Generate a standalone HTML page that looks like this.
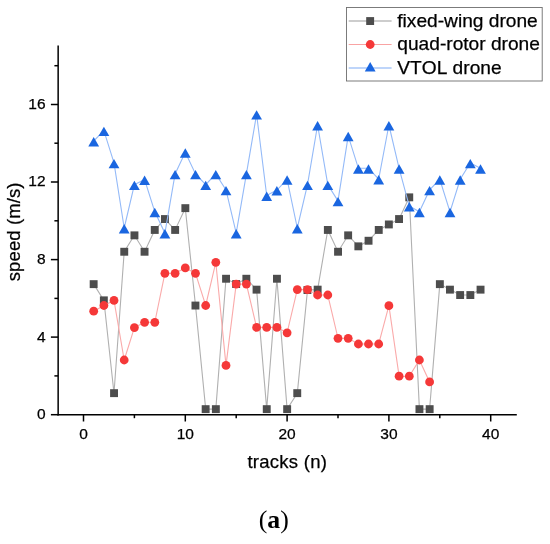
<!DOCTYPE html><html><head><meta charset="utf-8"><title>chart</title><style>html,body{margin:0;padding:0;background:#fff}svg{display:block}text{font-family:"Liberation Sans",Arial,sans-serif;fill:#000;stroke:#000;stroke-width:.25px;font-kerning:none}</style></head><body>
<svg width="550" height="544" viewBox="0 0 550 544">
<rect width="550" height="544" fill="#fff"/>
<polyline fill="none" stroke="#b0b0b0" stroke-width="1.1" points="93.7,284.1 103.9,300.4 114.0,393.2 124.2,251.7 134.4,235.3 144.6,251.7 154.8,229.9 164.9,219.0 175.1,229.9 185.3,208.2 195.5,305.5 205.7,409.1 215.8,409.1 226.0,278.7 236.2,284.0 246.4,278.7 256.6,289.6 266.7,409.1 276.9,278.7 287.1,409.1 297.3,393.2 307.5,290.0 317.6,289.6 327.8,229.9 338.0,251.7 348.2,235.3 358.4,246.3 368.5,240.7 378.7,229.9 388.9,224.4 399.1,219.0 409.3,197.3 419.4,409.1 429.6,409.1 439.8,284.1 450.0,289.6 460.2,295.0 470.3,295.0 480.5,289.6"/>
<rect x="89.7" y="280.2" width="7.9" height="7.9" fill="#4d4d4d"/>
<rect x="99.9" y="296.4" width="7.9" height="7.9" fill="#4d4d4d"/>
<rect x="110.1" y="389.2" width="7.9" height="7.9" fill="#4d4d4d"/>
<rect x="120.3" y="247.8" width="7.9" height="7.9" fill="#4d4d4d"/>
<rect x="130.5" y="231.4" width="7.9" height="7.9" fill="#4d4d4d"/>
<rect x="140.6" y="247.8" width="7.9" height="7.9" fill="#4d4d4d"/>
<rect x="150.8" y="226.0" width="7.9" height="7.9" fill="#4d4d4d"/>
<rect x="161.0" y="215.1" width="7.9" height="7.9" fill="#4d4d4d"/>
<rect x="171.2" y="226.0" width="7.9" height="7.9" fill="#4d4d4d"/>
<rect x="181.4" y="204.2" width="7.9" height="7.9" fill="#4d4d4d"/>
<rect x="191.5" y="301.6" width="7.9" height="7.9" fill="#4d4d4d"/>
<rect x="201.7" y="405.2" width="7.9" height="7.9" fill="#4d4d4d"/>
<rect x="211.9" y="405.2" width="7.9" height="7.9" fill="#4d4d4d"/>
<rect x="222.1" y="274.8" width="7.9" height="7.9" fill="#4d4d4d"/>
<rect x="232.2" y="280.1" width="7.9" height="7.9" fill="#4d4d4d"/>
<rect x="242.4" y="274.8" width="7.9" height="7.9" fill="#4d4d4d"/>
<rect x="252.6" y="285.7" width="7.9" height="7.9" fill="#4d4d4d"/>
<rect x="262.8" y="405.2" width="7.9" height="7.9" fill="#4d4d4d"/>
<rect x="273.0" y="274.8" width="7.9" height="7.9" fill="#4d4d4d"/>
<rect x="283.2" y="405.2" width="7.9" height="7.9" fill="#4d4d4d"/>
<rect x="293.3" y="389.2" width="7.9" height="7.9" fill="#4d4d4d"/>
<rect x="303.5" y="286.1" width="7.9" height="7.9" fill="#4d4d4d"/>
<rect x="313.7" y="285.7" width="7.9" height="7.9" fill="#4d4d4d"/>
<rect x="323.9" y="226.0" width="7.9" height="7.9" fill="#4d4d4d"/>
<rect x="334.1" y="247.8" width="7.9" height="7.9" fill="#4d4d4d"/>
<rect x="344.2" y="231.4" width="7.9" height="7.9" fill="#4d4d4d"/>
<rect x="354.4" y="242.4" width="7.9" height="7.9" fill="#4d4d4d"/>
<rect x="364.6" y="236.8" width="7.9" height="7.9" fill="#4d4d4d"/>
<rect x="374.8" y="226.0" width="7.9" height="7.9" fill="#4d4d4d"/>
<rect x="384.9" y="220.5" width="7.9" height="7.9" fill="#4d4d4d"/>
<rect x="395.1" y="215.1" width="7.9" height="7.9" fill="#4d4d4d"/>
<rect x="405.3" y="193.4" width="7.9" height="7.9" fill="#4d4d4d"/>
<rect x="415.5" y="405.2" width="7.9" height="7.9" fill="#4d4d4d"/>
<rect x="425.7" y="405.2" width="7.9" height="7.9" fill="#4d4d4d"/>
<rect x="435.9" y="280.2" width="7.9" height="7.9" fill="#4d4d4d"/>
<rect x="446.0" y="285.7" width="7.9" height="7.9" fill="#4d4d4d"/>
<rect x="456.2" y="291.1" width="7.9" height="7.9" fill="#4d4d4d"/>
<rect x="466.4" y="291.1" width="7.9" height="7.9" fill="#4d4d4d"/>
<rect x="476.6" y="285.7" width="7.9" height="7.9" fill="#4d4d4d"/>
<polyline fill="none" stroke="#faaaaa" stroke-width="1.1" points="93.7,311.2 103.9,305.5 114.0,300.4 124.2,360.0 134.4,327.6 144.6,322.3 154.8,322.3 164.9,273.3 175.1,273.3 185.3,267.9 195.5,273.3 205.7,305.5 215.8,262.3 226.0,365.4 236.2,284.1 246.4,284.1 256.6,327.4 266.7,327.4 276.9,327.4 287.1,332.8 297.3,289.6 307.5,289.6 317.6,295.0 327.8,295.0 338.0,338.3 348.2,338.3 358.4,344.0 368.5,344.0 378.7,344.0 388.9,305.7 399.1,376.2 409.3,376.2 419.4,360.0 429.6,381.9"/>
<circle cx="93.7" cy="311.2" r="4.4" fill="#f53838"/>
<circle cx="103.9" cy="305.5" r="4.4" fill="#f53838"/>
<circle cx="114.0" cy="300.4" r="4.4" fill="#f53838"/>
<circle cx="124.2" cy="360.0" r="4.4" fill="#f53838"/>
<circle cx="134.4" cy="327.6" r="4.4" fill="#f53838"/>
<circle cx="144.6" cy="322.3" r="4.4" fill="#f53838"/>
<circle cx="154.8" cy="322.3" r="4.4" fill="#f53838"/>
<circle cx="164.9" cy="273.3" r="4.4" fill="#f53838"/>
<circle cx="175.1" cy="273.3" r="4.4" fill="#f53838"/>
<circle cx="185.3" cy="267.9" r="4.4" fill="#f53838"/>
<circle cx="195.5" cy="273.3" r="4.4" fill="#f53838"/>
<circle cx="205.7" cy="305.5" r="4.4" fill="#f53838"/>
<circle cx="215.8" cy="262.3" r="4.4" fill="#f53838"/>
<circle cx="226.0" cy="365.4" r="4.4" fill="#f53838"/>
<circle cx="236.2" cy="284.1" r="4.4" fill="#f53838"/>
<circle cx="246.4" cy="284.1" r="4.4" fill="#f53838"/>
<circle cx="256.6" cy="327.4" r="4.4" fill="#f53838"/>
<circle cx="266.7" cy="327.4" r="4.4" fill="#f53838"/>
<circle cx="276.9" cy="327.4" r="4.4" fill="#f53838"/>
<circle cx="287.1" cy="332.8" r="4.4" fill="#f53838"/>
<circle cx="297.3" cy="289.6" r="4.4" fill="#f53838"/>
<circle cx="307.5" cy="289.6" r="4.4" fill="#f53838"/>
<circle cx="317.6" cy="295.0" r="4.4" fill="#f53838"/>
<circle cx="327.8" cy="295.0" r="4.4" fill="#f53838"/>
<circle cx="338.0" cy="338.3" r="4.4" fill="#f53838"/>
<circle cx="348.2" cy="338.3" r="4.4" fill="#f53838"/>
<circle cx="358.4" cy="344.0" r="4.4" fill="#f53838"/>
<circle cx="368.5" cy="344.0" r="4.4" fill="#f53838"/>
<circle cx="378.7" cy="344.0" r="4.4" fill="#f53838"/>
<circle cx="388.9" cy="305.7" r="4.4" fill="#f53838"/>
<circle cx="399.1" cy="376.2" r="4.4" fill="#f53838"/>
<circle cx="409.3" cy="376.2" r="4.4" fill="#f53838"/>
<circle cx="419.4" cy="360.0" r="4.4" fill="#f53838"/>
<circle cx="429.6" cy="381.9" r="4.4" fill="#f53838"/>
<polyline fill="none" stroke="#94baf8" stroke-width="1.1" points="93.7,141.0 103.9,130.7 114.0,162.9 124.2,228.0 134.4,184.7 144.6,179.6 154.8,211.8 164.9,233.1 175.1,173.9 185.3,152.3 195.5,173.9 205.7,184.7 215.8,173.9 226.0,189.9 236.2,233.1 246.4,173.9 256.6,114.2 266.7,195.5 276.9,190.1 287.1,179.3 297.3,228.0 307.5,184.7 317.6,125.0 327.8,184.7 338.0,200.9 348.2,135.8 358.4,168.3 368.5,168.3 378.7,179.1 388.9,125.0 399.1,168.3 409.3,206.1 419.4,211.8 429.6,189.9 439.8,179.3 450.0,211.8 460.2,179.3 470.3,162.9 480.5,168.3"/>
<polygon points="93.7,137.0 88.3,146.4 99.1,146.4" fill="#1a66e0"/>
<polygon points="103.9,126.7 98.5,136.1 109.3,136.1" fill="#1a66e0"/>
<polygon points="114.0,158.9 108.6,168.3 119.4,168.3" fill="#1a66e0"/>
<polygon points="124.2,224.0 118.8,233.4 129.6,233.4" fill="#1a66e0"/>
<polygon points="134.4,180.7 129.0,190.1 139.8,190.1" fill="#1a66e0"/>
<polygon points="144.6,175.6 139.2,185.0 150.0,185.0" fill="#1a66e0"/>
<polygon points="154.8,207.8 149.4,217.2 160.2,217.2" fill="#1a66e0"/>
<polygon points="164.9,229.1 159.5,238.5 170.3,238.5" fill="#1a66e0"/>
<polygon points="175.1,169.9 169.7,179.3 180.5,179.3" fill="#1a66e0"/>
<polygon points="185.3,148.3 179.9,157.7 190.7,157.7" fill="#1a66e0"/>
<polygon points="195.5,169.9 190.1,179.3 200.9,179.3" fill="#1a66e0"/>
<polygon points="205.7,180.7 200.3,190.1 211.1,190.1" fill="#1a66e0"/>
<polygon points="215.8,169.9 210.4,179.3 221.2,179.3" fill="#1a66e0"/>
<polygon points="226.0,185.9 220.6,195.3 231.4,195.3" fill="#1a66e0"/>
<polygon points="236.2,229.1 230.8,238.5 241.6,238.5" fill="#1a66e0"/>
<polygon points="246.4,169.9 241.0,179.3 251.8,179.3" fill="#1a66e0"/>
<polygon points="256.6,110.2 251.2,119.6 262.0,119.6" fill="#1a66e0"/>
<polygon points="266.7,191.5 261.3,200.9 272.1,200.9" fill="#1a66e0"/>
<polygon points="276.9,186.1 271.5,195.5 282.3,195.5" fill="#1a66e0"/>
<polygon points="287.1,175.3 281.7,184.7 292.5,184.7" fill="#1a66e0"/>
<polygon points="297.3,224.0 291.9,233.4 302.7,233.4" fill="#1a66e0"/>
<polygon points="307.5,180.7 302.1,190.1 312.9,190.1" fill="#1a66e0"/>
<polygon points="317.6,121.0 312.2,130.4 323.0,130.4" fill="#1a66e0"/>
<polygon points="327.8,180.7 322.4,190.1 333.2,190.1" fill="#1a66e0"/>
<polygon points="338.0,196.9 332.6,206.3 343.4,206.3" fill="#1a66e0"/>
<polygon points="348.2,131.8 342.8,141.2 353.6,141.2" fill="#1a66e0"/>
<polygon points="358.4,164.3 353.0,173.7 363.8,173.7" fill="#1a66e0"/>
<polygon points="368.5,164.3 363.1,173.7 373.9,173.7" fill="#1a66e0"/>
<polygon points="378.7,175.1 373.3,184.5 384.1,184.5" fill="#1a66e0"/>
<polygon points="388.9,121.0 383.5,130.4 394.3,130.4" fill="#1a66e0"/>
<polygon points="399.1,164.3 393.7,173.7 404.5,173.7" fill="#1a66e0"/>
<polygon points="409.3,202.1 403.9,211.5 414.7,211.5" fill="#1a66e0"/>
<polygon points="419.4,207.8 414.0,217.2 424.8,217.2" fill="#1a66e0"/>
<polygon points="429.6,185.9 424.2,195.3 435.0,195.3" fill="#1a66e0"/>
<polygon points="439.8,175.3 434.4,184.7 445.2,184.7" fill="#1a66e0"/>
<polygon points="450.0,207.8 444.6,217.2 455.4,217.2" fill="#1a66e0"/>
<polygon points="460.2,175.3 454.8,184.7 465.6,184.7" fill="#1a66e0"/>
<polygon points="470.3,158.9 464.9,168.3 475.7,168.3" fill="#1a66e0"/>
<polygon points="480.5,164.3 475.1,173.7 485.9,173.7" fill="#1a66e0"/>
<g stroke="#000" stroke-width="1.5" fill="none">
<line x1="58.15" y1="45.4" x2="58.15" y2="415.45"/>
<line x1="57.4" y1="414.7" x2="516.8" y2="414.7"/>
<line x1="50.9" y1="414.7" x2="58.15" y2="414.7"/>
<line x1="54.4" y1="375.9" x2="58.15" y2="375.9"/>
<line x1="50.9" y1="337.1" x2="58.15" y2="337.1"/>
<line x1="54.4" y1="298.4" x2="58.15" y2="298.4"/>
<line x1="50.9" y1="259.6" x2="58.15" y2="259.6"/>
<line x1="54.4" y1="220.8" x2="58.15" y2="220.8"/>
<line x1="50.9" y1="182.0" x2="58.15" y2="182.0"/>
<line x1="54.4" y1="143.2" x2="58.15" y2="143.2"/>
<line x1="50.9" y1="104.5" x2="58.15" y2="104.5"/>
<line x1="54.4" y1="65.7" x2="58.15" y2="65.7"/>
<line x1="83.5" y1="414.7" x2="83.5" y2="421.5"/>
<line x1="134.4" y1="414.7" x2="134.4" y2="418.2"/>
<line x1="185.3" y1="414.7" x2="185.3" y2="421.5"/>
<line x1="236.2" y1="414.7" x2="236.2" y2="418.2"/>
<line x1="287.1" y1="414.7" x2="287.1" y2="421.5"/>
<line x1="338.0" y1="414.7" x2="338.0" y2="418.2"/>
<line x1="388.9" y1="414.7" x2="388.9" y2="421.5"/>
<line x1="439.8" y1="414.7" x2="439.8" y2="418.2"/>
<line x1="490.7" y1="414.7" x2="490.7" y2="421.5"/>
</g>
<g font-size="15.5" text-anchor="end">
<text x="45.6" y="419.1">0</text>
<text x="45.6" y="341.5">4</text>
<text x="45.6" y="264.0">8</text>
<text x="45.6" y="186.4">12</text>
<text x="45.6" y="108.9">16</text>
</g>
<g font-size="15.5" text-anchor="middle">
<text x="83.5" y="439.2">0</text>
<text x="185.3" y="439.2">10</text>
<text x="287.1" y="439.2">20</text>
<text x="388.9" y="439.2">30</text>
<text x="490.7" y="439.2">40</text>
</g>
<text x="287.3" y="468.4" font-size="18.5" letter-spacing="0.26" text-anchor="middle">tracks (n)</text>
<text transform="translate(20.3 231.8) rotate(-90)" font-size="18.5" letter-spacing="0.11" text-anchor="middle">speed (m/s)</text>
<rect x="346.5" y="7.5" width="195.7" height="73.5" fill="#fff" stroke="#6e6e6e" stroke-width="0.9"/>
<line x1="348.7" y1="21" x2="391.6" y2="21" stroke="#bcbcbc" stroke-width="1.5"/>
<rect x="366.2" y="17.1" width="7.9" height="7.9" fill="#4d4d4d"/>
<text x="397.3" y="26.7" font-size="19.15">fixed-wing drone</text>
<line x1="348.7" y1="44.5" x2="391.6" y2="44.5" stroke="#f9a3a3" stroke-width="1.1"/>
<circle cx="370.2" cy="44.5" r="4.4" fill="#f53838"/>
<text x="397.3" y="49.9" font-size="19.15">quad-rotor drone</text>
<line x1="348.7" y1="68.0" x2="391.6" y2="68.0" stroke="#a8c7f9" stroke-width="1.5"/>
<polygon points="370.2,62.1 364.8,71.5 375.6,71.5" fill="#1a66e0"/>
<text x="397.3" y="74.1" font-size="19.15">VTOL drone</text>
<text x="273.8" y="527.6" font-size="25.8" text-anchor="middle" style="font-family:'Liberation Serif','DejaVu Serif',serif;stroke:none">(<tspan font-weight="bold">a</tspan>)</text>
</svg></body></html>
